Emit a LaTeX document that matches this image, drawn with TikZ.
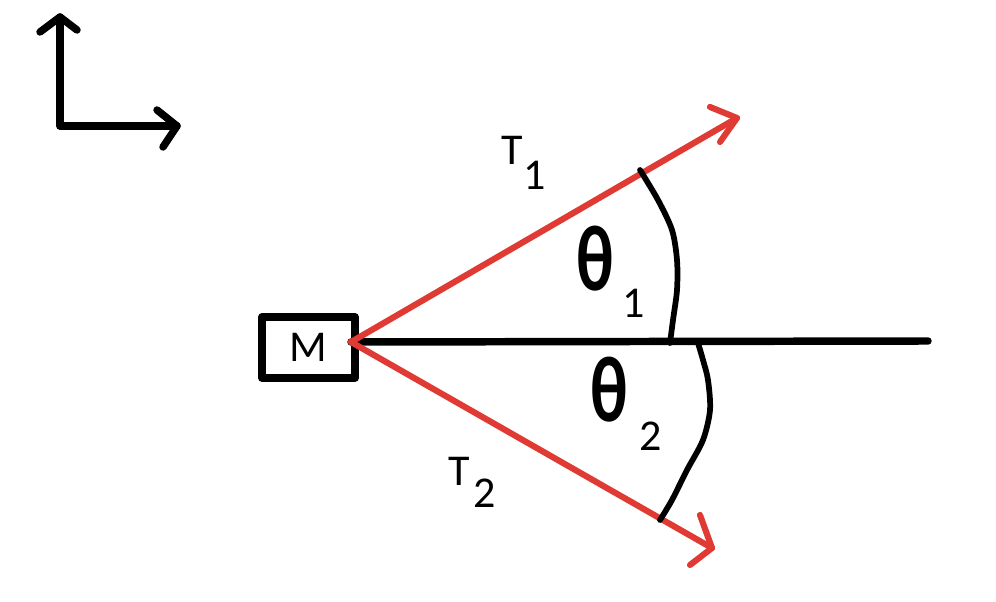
\documentclass[tikz,border=0pt]{standalone}
\usepackage{fontspec}
\setmainfont{Carlito}
\definecolor{penred}{RGB}{224,58,52}
\begin{document}
\begin{tikzpicture}[x=0.75pt,y=-0.75pt, line cap=round, line join=round,
  blk/.style={line width=5.6pt, black},
  arcline/.style={line width=4.3pt, black},
  redl/.style={line width=4.6pt, penred},
  lbl/.style={font=\fontsize{33}{36}\selectfont, inner sep=0pt},
  thlbl/.style={font=\fontsize{70}{76}\selectfont\bfseries, inner sep=0pt}]
\useasboundingbox (0,0) rectangle (996,602);

% axes
\coordinate (ax0) at (60,126);
\coordinate (axy) at (60,17);
\coordinate (axx) at (177,126);
\coordinate (ya) at (40,32);
\coordinate (yb) at (77,30);
\coordinate (xa) at (157,110);
\coordinate (xb) at (163,147);
\draw[blk] (axy) -- (ax0) -- (axx);
\draw[blk] (ya) -- (axy) -- (yb);
\draw[blk] (xa) -- (axx) -- (xb);

% mass
\node[draw, line width=5.8pt, minimum width=69.75pt, minimum height=45.75pt, lbl] (m) at (308.5,347.5) {M};

\coordinate (o) at (351,342);
\coordinate (e) at (928,341);
\coordinate (t1tip) at (737,118);
\coordinate (t1a) at (710,107);
\coordinate (t1b) at (720,142);
\coordinate (t2tip) at (712,548);
\coordinate (t2a) at (700,515);
\coordinate (t2b) at (690,565);

\draw[blk] (o) -- (e);
\draw[redl] (o) -- (t1tip);
\draw[redl] (t1a) -- (t1tip) -- (t1b);
\draw[redl] (o) -- (t2tip);
\draw[redl] (t2a) -- (t2tip) -- (t2b);

% angle arcs
\draw[arcline] plot[smooth] coordinates {(640,170) (658,200) (672,230) (677,260) (677,290) (673,320) (670,343)};
\draw[arcline] plot[smooth] coordinates {(698,343) (703,360) (708,380) (710,410) (703,440) (687,470) (672,500) (660,520)};

% labels
\node[lbl] (T1) at (512,150) {T};
\node[lbl] (T1s) at (535,175) {1};
\node[lbl] (T2) at (459,471) {T};
\node[lbl] (T2s) at (485,493) {2};
\node[thlbl] (th1) at (595,259) {\scalebox{0.74}[1]{θ}};
\node[lbl] (th1s) at (634,303) {1};
\node[thlbl] (th2) at (609,390) {\scalebox{0.74}[1]{θ}};
\node[lbl] (th2s) at (651,436) {2};
\end{tikzpicture}
\end{document}
